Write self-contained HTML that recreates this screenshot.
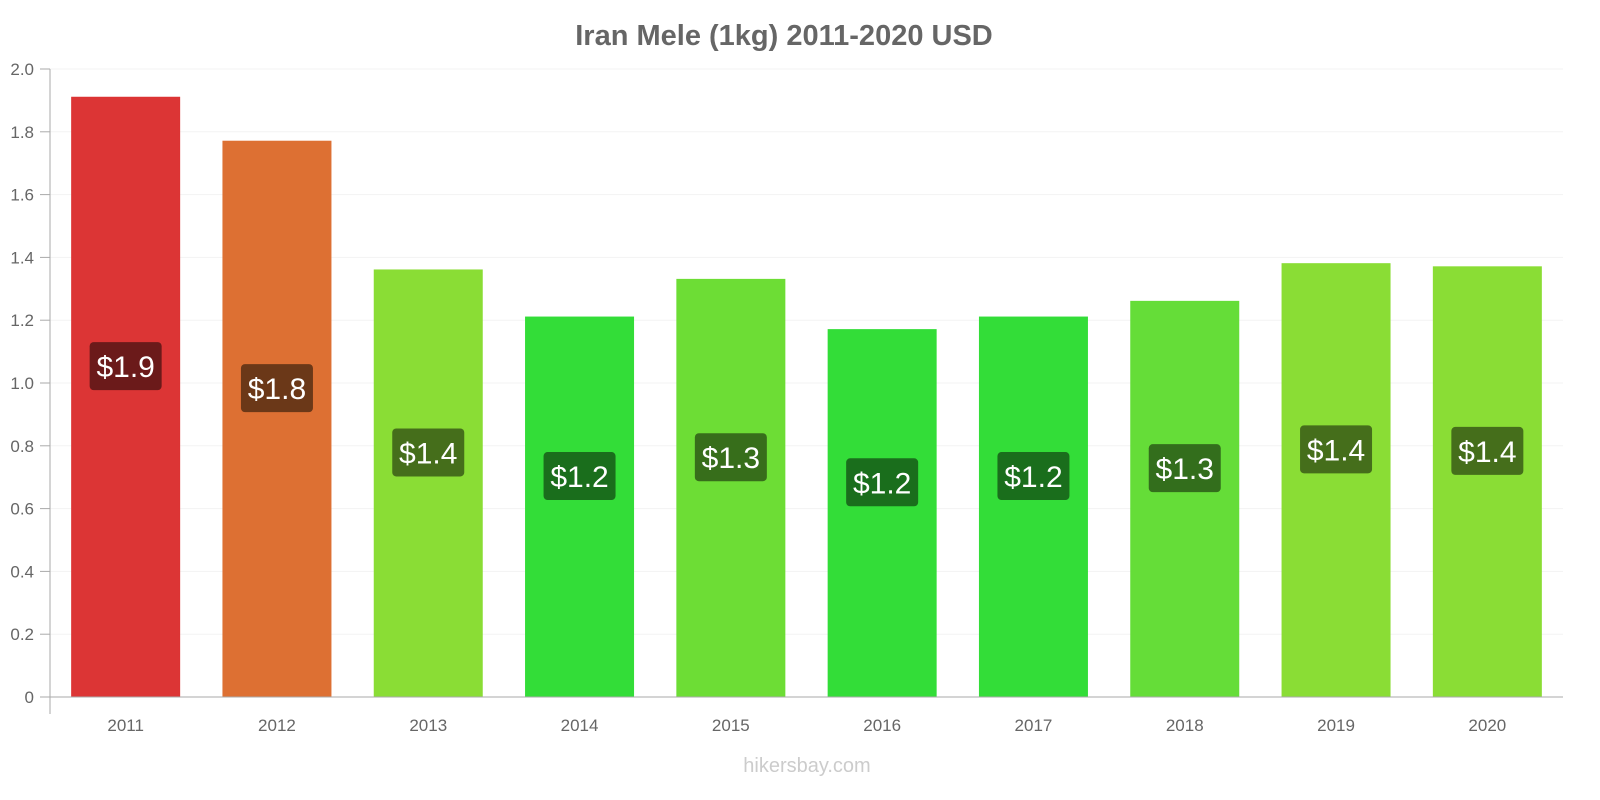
<!DOCTYPE html>
<html><head><meta charset="utf-8"><style>
html,body{margin:0;padding:0;background:#fff;font-family:"Liberation Sans",sans-serif;width:1600px;height:800px;overflow:hidden}
svg{display:block}
svg text{font-family:"Liberation Sans",sans-serif}
</style></head><body>
<svg id="chart" width="1600" height="800">
<text x="784" y="45" text-anchor="middle" font-size="29" font-weight="bold" fill="#666">Iran Mele (1kg) 2011-2020 USD</text>
<text x="807" y="772" text-anchor="middle" font-size="20" fill="#ccc">hikersbay.com</text>
<g id="grid"></g><g id="bars"></g><g id="axes"></g>
</svg>
<script>
const categories=["2011","2012","2013","2014","2015","2016","2017","2018","2019","2020"];
const values=[1.91,1.77,1.36,1.21,1.33,1.17,1.21,1.26,1.38,1.37];
const labels=["$1.9","$1.8","$1.4","$1.2","$1.3","$1.2","$1.2","$1.3","$1.4","$1.4"];
const yTicks=[0,0.2,0.4,0.6,0.8,1.0,1.2,1.4,1.6,1.8,2.0];
const yTickLabels=["0","0.2","0.4","0.6","0.8","1.0","1.2","1.4","1.6","1.8","2.0"];
const barColors=["#dc3535","#dd7033","#8add35","#33dd38","#6ddd35","#33dd38","#33dd38","#65dd38","#8add35","#8add35"];
const labelColors=["#6b1a1a","#6b3818","#456e1b","#1a6e1c","#376e1b","#1a6e1c","#1a6e1c","#336e1c","#456e1b","#456e1b"];
const NS="http://www.w3.org/2000/svg";
const x0=50,x1=1563,y0=697,yTop=69,yMax=2.0;
const step=(x1-x0)/categories.length;
const y=v=>y0-(v/yMax)*(y0-yTop);
const xc=i=>x0+step*(i+0.5);
function mk(t,a,p){const e=document.createElementNS(NS,t);for(const k in a)e.setAttribute(k,a[k]);p.appendChild(e);return e;}
const grid=document.getElementById('grid'),bars=document.getElementById('bars'),axes=document.getElementById('axes');
yTicks.forEach((v,i)=>{
  if(v>0){const g=mk('line',{x1:x0,x2:x1,y1:y(v),y2:y(v),stroke:'#f3f3f3'},grid);
  
  }
  const t=mk('text',{x:34,y:y(v)+6,'text-anchor':'end','font-size':17,fill:'#666'},axes);
  t.textContent=yTickLabels[i];
  
  
  mk('line',{x1:40,x2:50,y1:y(v),y2:y(v),stroke:'#aaa'},axes);
});
const ya=mk('line',{x1:50,x2:50,y1:yTop,y2:714,stroke:'#aaa'},axes);


const xa=mk('line',{x1:40,x2:x1,y1:y0,y2:y0,stroke:'#aaa'},axes);


const bw=108;
categories.forEach((c,i)=>{
  const top=y(values[i]);
  const r=mk('rect',{x:xc(i)-bw/2,y:top,width:bw,height:y0-top,fill:barColors[i],stroke:barColors[i]},bars);
  
  
  const cy=(top+y0)/2-31;
  const lb=mk('rect',{x:xc(i)-36,y:cy-24,width:72,height:48,rx:4,fill:labelColors[i]},bars);
  
  
  const lt=mk('text',{x:xc(i),y:cy+11,'text-anchor':'middle','font-size':30,fill:'#fff'},bars);
  lt.textContent=labels[i];
  
  
  const xt=mk('text',{x:xc(i),y:731,'text-anchor':'middle','font-size':17,fill:'#666'},axes);
  xt.textContent=c;
  
  
});
</script>
</body></html>
